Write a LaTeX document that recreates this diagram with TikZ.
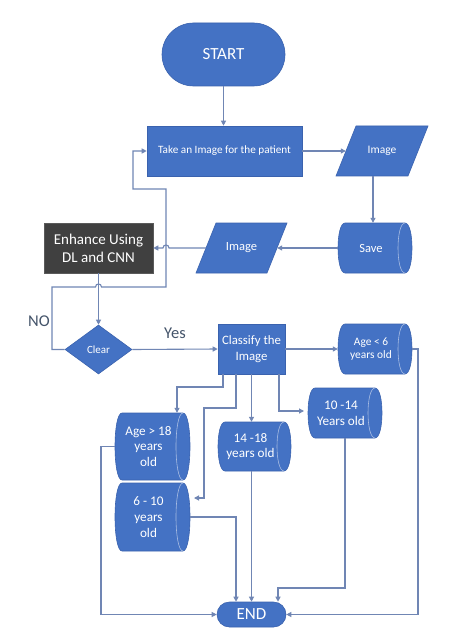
\documentclass[tikz,border=0pt]{standalone}
\usepackage{fontspec}
\setmainfont{Carlito}
\usetikzlibrary{shapes.geometric,shapes.misc,arrows.meta}
\definecolor{shapefill}{HTML}{4472C4}
\definecolor{shapeline}{HTML}{3A62AE}
\definecolor{darkbox}{HTML}{404040}
\definecolor{darkline}{HTML}{5A5A5A}
\definecolor{linkc}{HTML}{7086B4}
\definecolor{innerarc}{HTML}{A9BDE3}
\definecolor{labelc}{HTML}{44546A}
\tikzset{
  every node/.style={text=white, align=center, inner sep=0pt},
  shapebody/.style={fill=shapefill, draw=shapeline, line width=0.6pt},
  term/.style={rounded rectangle, shapebody},
  proc/.style={rectangle, shapebody},
  dec/.style={diamond, shapebody},
  darkproc/.style={rectangle, fill=darkbox, draw=darkline, line width=0.6pt},
  anchorbox/.style={rectangle, inner sep=0pt},
  link/.style={draw=linkc, line width=1.1pt},
  arr/.style={link, -{Triangle[length=5pt,width=5pt]}},
  lbl/.style={text=labelc, font=\fontsize{16.5}{19}\selectfont},
}
% drum: name, cx, cy, w, h, font, text
\newcommand\drum[7]{%
  \pgfmathsetmacro\drumhh{#5/2}%
  \pgfmathsetmacro\drumA{#4/2-7}%
  \pgfmathsetmacro\drumC{#4/2+2.33}%
  \pgfmathsetmacro\drumD{#4/2-16.33}%
  \begin{scope}[shift={(#2,#3)}]
    \path[shapebody] (-\drumA,-\drumhh) -- (\drumA,-\drumhh)
      .. controls (\drumC,-\drumhh) and (\drumC,\drumhh) .. (\drumA,\drumhh)
      -- (-\drumA,\drumhh)
      .. controls (-\drumC,\drumhh) and (-\drumC,-\drumhh) .. (-\drumA,-\drumhh) -- cycle;
    \draw[innerarc, line width=0.6pt] (\drumA,-\drumhh)
      .. controls (\drumD,-\drumhh) and (\drumD,\drumhh) .. (\drumA,\drumhh);
  \end{scope}
  \node[anchorbox, minimum width=#4pt, minimum height=#5pt] (#1) at (#2,#3) {};
  \node[font=#6] (#1-text) at ([xshift=-4pt]#1.center) {#7};
}
% para: name, cx, cy, w, h, slant, font, text
\newcommand\para[8]{%
  \pgfmathsetmacro\parhw{#4/2}%
  \pgfmathsetmacro\parhh{#5/2}%
  \pgfmathsetmacro\parB{#4/2-#6}%
  \begin{scope}[shift={(#2,#3)}]
    \path[shapebody] (-\parB,-\parhh) -- (\parhw,-\parhh) -- (\parB,\parhh) -- (-\parhw,\parhh) -- cycle;
  \end{scope}
  \node[anchorbox, minimum width={#4pt-#6pt}, minimum height=#5pt, font=#7] (#1) at (#2,#3) {#8};
}
\begin{document}
\begin{tikzpicture}[x=1pt,y=-1pt]
\fill[white] (0,0) rectangle (475,644);
\useasboundingbox (0,0) rectangle (475,644);

% nodes
\node[term, minimum width=123pt, minimum height=63pt, font=\fontsize{17}{20}\selectfont] (start) at (223.5,54.5) {START};
\node[proc, minimum width=155pt, minimum height=50pt, font=\fontsize{11.2}{13.4}\selectfont] (take) at (224.5,151) {Take an Image for the patient};
\para{img1}{382}{151}{92}{50}{20}{\fontsize{11.5}{13.8}\selectfont}{Image}
\drum{save}{375}{248}{74}{50}{\fontsize{12.5}{15}\selectfont}{Save}
\para{img2}{241.5}{248}{91}{50}{20}{\fontsize{12.5}{15}\selectfont}{Image}
\node[darkproc, minimum width=109pt, minimum height=50pt, font=\fontsize{15}{18}\selectfont] (enh) at (98.5,248) {Enhance Using\\DL and CNN};
\node[dec, minimum width=67pt, minimum height=49pt, font=\fontsize{11}{13}\selectfont] (clear) at (98.5,349.5) {Clear};
\node[proc, minimum width=67pt, minimum height=50pt, font=\fontsize{12.8}{15.5}\selectfont] (classify) at (251.5,349) {Classify the\\Image};
\drum{age6}{375}{349}{74}{50}{\fontsize{11.4}{13.7}\selectfont}{Age < 6\\years old}
\drum{a1014}{345}{413}{74}{50}{\fontsize{13.2}{15.8}\selectfont}{10 -14\\Years old}
\drum{a1418}{254.5}{446.5}{73}{49}{\fontsize{13.2}{15.8}\selectfont}{14 -18\\years old}
\drum{a18}{152.5}{446.5}{75}{67}{\fontsize{13.2}{15.8}\selectfont}{Age > 18\\years\\old}
\drum{a610}{152.5}{517}{75}{68}{\fontsize{13.2}{15.8}\selectfont}{6 - 10\\years\\old}
\node[term, minimum width=69pt, minimum height=25pt, font=\fontsize{17}{20}\selectfont] (finish) at (251.5,614.5) {END};
\node[lbl] (nolbl) at (39,321) {NO};
\node[lbl] (yeslbl) at (175,333) {Yes};

% connectors
\draw[arr] (start.south) -- (start.south |- take.north);
\draw[arr] (take.east) -- (img1.west);
\draw[arr] ([xshift=-9pt]img1.south) -- ([xshift=-9pt]img1.south |- save.north);
\draw[arr] (save.west) -- (img2.east);
\draw[arr] (img2.west) -- (169,248) .. controls (169,244) and (163,244) .. (163,248) -- (enh.east);
\draw[arr] (enh.south) -- (clear.north);
\draw[arr] (clear.west) -- (52,349.5) -- (52,287) -- (95.5,287)
   .. controls (95.5,283) and (101.5,283) .. (101.5,287) -- (166,287) -- (166,189) -- (133,189) -- (133,151) -- (take.west);
\draw[arr] (clear.east) -- (classify.west);
\draw[arr] (classify.east) -- (age6.west);
\draw[arr] (age6.east) -- (418,349) -- (418,614.5) -- (finish.east);
\draw[arr] ([xshift=-28.5pt]classify.south) -- (223,387) -- (177,387) -- ([xshift=24.5pt]a18.north);
\draw[arr] ([xshift=-15.5pt]classify.south) -- (236,408) -- (204,408) -- (204,498) -- (194,498);
\draw[arr] (classify.south) -- (classify.south |- a1418.north);
\draw[arr] ([xshift=27.5pt]classify.south) -- (279,411) -- (304,411);
\draw[arr] (a18.west) -- (101,446.5) -- (101,614.5) -- (finish.west);
\draw[arr] (a610.east) -- (236,517) -- ([xshift=-15.5pt]finish.north);
\draw[arr] (finish.north |- a1418.south) -- (finish.north);
\draw[arr] (a1014.south) -- (345,588) -- (278,588) -- ([xshift=26.5pt]finish.north);
\end{tikzpicture}
\end{document}
